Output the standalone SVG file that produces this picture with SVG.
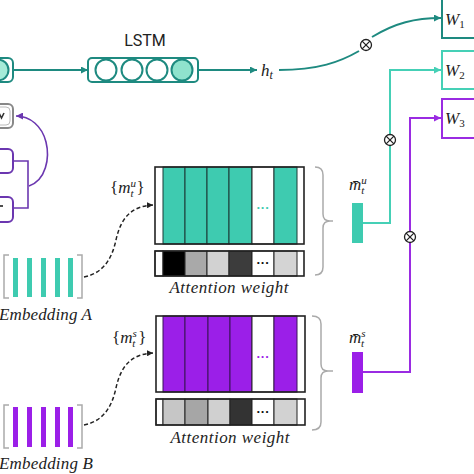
<svg xmlns="http://www.w3.org/2000/svg" width="474" height="474" viewBox="0 0 474 474">
<defs>
<style>
.sans{font-family:"Roboto","Liberation Sans",sans-serif;fill:#222}
.mi{font-family:"Liberation Serif","DejaVu Serif",serif;font-style:italic;fill:#222}
.up{font-style:normal}
.cap{font-family:"Liberation Serif","DejaVu Serif",serif;font-style:italic;font-size:17px;fill:#222}
.dt{stroke:#1e8a80;stroke-width:2;fill:none}
.lt{stroke:#45d0b6;stroke-width:2;fill:none}
.pu{stroke:#9a2be2;stroke-width:2;fill:none}
.lp{stroke:#6b37b0;stroke-width:1.6;fill:none}
.dash{stroke:#222;stroke-width:1.5;fill:none;stroke-dasharray:4 2.5}
.brace{stroke:#aaa;stroke-width:1.5;fill:none}
.box{fill:none;stroke:#222;stroke-width:1.6}
.cellT{fill:#3ecbb0;stroke:#1b3a36;stroke-width:1}
.cellP{fill:#9b1fe8;stroke:#3a1458;stroke-width:1}
.cellW{fill:#fff;stroke:#222;stroke-width:1}
.dots{font-family:"Liberation Sans",sans-serif;font-size:13px;font-weight:bold;text-anchor:middle}
.otimes circle{fill:#fff;stroke:#222;stroke-width:1.3}
.otimes path{stroke:#222;stroke-width:1.3}
</style>
<marker id="aD" viewBox="0 0 10 10" refX="10" refY="5" markerWidth="7" markerHeight="7" markerUnits="userSpaceOnUse" orient="auto"><path d="M0,0 L10,5 L0,10 z" fill="#1e8a80"/></marker>
<marker id="aL" viewBox="0 0 10 10" refX="10" refY="5" markerWidth="7" markerHeight="7" markerUnits="userSpaceOnUse" orient="auto"><path d="M0,0 L10,5 L0,10 z" fill="#45d0b6"/></marker>
<marker id="aP" viewBox="0 0 10 10" refX="10" refY="5" markerWidth="7" markerHeight="7" markerUnits="userSpaceOnUse" orient="auto"><path d="M0,0 L10,5 L0,10 z" fill="#9a2be2"/></marker>
<marker id="aLP" viewBox="0 0 10 10" refX="10" refY="5" markerWidth="7" markerHeight="7" markerUnits="userSpaceOnUse" orient="auto"><path d="M0,0 L10,5 L0,10 z" fill="#6b37b0"/></marker>
<marker id="aK" viewBox="0 0 10 10" refX="10" refY="5" markerWidth="6" markerHeight="6" markerUnits="userSpaceOnUse" orient="auto"><path d="M0,0 L10,5 L0,10 z" fill="#222"/></marker>
</defs>
<rect width="474" height="474" fill="#fff"/>

<g id="connectors">
<path class="dt" d="M13,70 H88" marker-end="url(#aD)"/>
<path class="dt" d="M198,70 H257" marker-end="url(#aD)"/>
<path class="dt" d="M279,70 C318,70 340,62 359,51"/>
<path class="dt" d="M372,37 C395,23 415,18 441,18" marker-end="url(#aD)"/>
<path class="lt" d="M363,223 H390 V70 H441" marker-end="url(#aL)"/>
<path class="pu" d="M363,372 H410 V118 H441" marker-end="url(#aP)"/>
<path class="lp" d="M13,161 H28 V208 H13"/>
<path class="lp" d="M29,186 C46,180 50,158 46,142 C42,126 30,116 16,116" marker-end="url(#aLP)"/>
<path class="dash" d="M84,277 C104,273 112,258 116,240 C121,217 132,206 153,205" marker-end="url(#aK)"/>
<path class="dash" d="M84,425 C104,421 112,406 116,388 C121,365 132,354 153,353" marker-end="url(#aK)"/>
</g>

<g id="otimes1" class="otimes"><circle cx="366" cy="45" r="5.5"/><path d="M362.1,41.1 L369.9,48.9 M369.9,41.1 L362.1,48.9"/></g>
<g id="otimes2" class="otimes"><circle cx="390" cy="140" r="5.5"/><path d="M386.1,136.1 L393.9,143.9 M393.9,136.1 L386.1,143.9"/></g>
<g id="otimes3" class="otimes"><circle cx="410" cy="237" r="5.5"/><path d="M406.1,233.1 L413.9,240.9 M413.9,233.1 L406.1,240.9"/></g>

<g id="left-teal-node">
<rect x="-30" y="58" width="43" height="24" rx="5" fill="#fff" stroke="#1e8a80" stroke-width="2"/>
<circle cx="-2" cy="70" r="10.5" fill="#a6ebd8" stroke="#1e8a80" stroke-width="2"/>
</g>
<g id="left-gray-node">
<rect x="-30" y="104" width="43" height="24" rx="5" fill="#fff" stroke="#888" stroke-width="2"/>
<rect x="-28" y="107" width="38" height="18" rx="4" fill="none" stroke="#bbb" stroke-width="1"/>
<path d="M-1,113 L1.5,118 L4,113" fill="none" stroke="#333" stroke-width="1.6"/>
</g>
<g id="left-purple-node1">
<rect x="-30" y="149" width="43" height="24" rx="5" fill="#fff" stroke="#6b37b0" stroke-width="2"/>
</g>
<g id="left-purple-node2">
<rect x="-30" y="197" width="43" height="25" rx="5" fill="#fff" stroke="#6b37b0" stroke-width="2"/>
<path d="M-1,206 H3" stroke="#222" stroke-width="1.6"/>
</g>

<g id="lstm">
<text class="sans" x="145" y="46" font-size="16" text-anchor="middle">LSTM</text>
<rect x="88" y="58" width="110" height="24" rx="4" fill="#fff" stroke="#1e8a80" stroke-width="2"/>
<circle cx="106" cy="70" r="10.5" fill="#fff" stroke="#1e8a80" stroke-width="2"/>
<circle cx="132" cy="70" r="10.5" fill="#fff" stroke="#1e8a80" stroke-width="2"/>
<circle cx="157" cy="70" r="10.5" fill="#fff" stroke="#1e8a80" stroke-width="2"/>
<circle cx="182" cy="70" r="10.5" fill="#8fe2cd" stroke="#1e8a80" stroke-width="2"/>
</g>

<g id="ht">
<text class="mi" x="261" y="76" font-size="17">h<tspan font-size="12" dy="3">t</tspan></text>
</g>

<g id="W1">
<rect x="442" y="-4" width="40" height="42" fill="#fff" stroke="#1e8a80" stroke-width="2"/>
<text class="mi" x="445" y="25" font-size="17">W<tspan class="up" font-size="11" dy="3">1</tspan></text>
</g>
<g id="W2">
<rect x="442" y="51" width="40" height="38" fill="#fff" stroke="#45d0b6" stroke-width="2"/>
<text class="mi" x="445" y="76" font-size="17">W<tspan class="up" font-size="11" dy="3">2</tspan></text>
</g>
<g id="W3">
<rect x="442" y="99" width="40" height="39" fill="#fff" stroke="#9a2be2" stroke-width="2"/>
<text class="mi" x="445" y="124" font-size="17">W<tspan class="up" font-size="11" dy="3">3</tspan></text>
</g>

<g id="embeddingA">
<path class="brace" stroke="#bbb" d="M9,255 H4 V298 H9 M77,255 H82 V298 H77"/>
<rect x="13" y="258" width="5" height="39" fill="#3ecbb0"/>
<rect x="27" y="258" width="5" height="39" fill="#3ecbb0"/>
<rect x="41" y="258" width="5" height="39" fill="#3ecbb0"/>
<rect x="55" y="258" width="5" height="39" fill="#3ecbb0"/>
<rect x="68" y="258" width="5" height="39" fill="#3ecbb0"/>
<text class="cap" x="-1" y="320" textLength="93">Embedding A</text>
</g>
<g id="embeddingB">
<path class="brace" stroke="#bbb" d="M9,405 H4 V448 H9 M77,405 H82 V448 H77"/>
<rect x="13" y="407" width="5" height="40" fill="#9b1fe8"/>
<rect x="27" y="407" width="5" height="40" fill="#9b1fe8"/>
<rect x="41" y="407" width="5" height="40" fill="#9b1fe8"/>
<rect x="55" y="407" width="5" height="40" fill="#9b1fe8"/>
<rect x="68" y="407" width="5" height="40" fill="#9b1fe8"/>
<text class="cap" x="-1" y="469" textLength="94">Embedding B</text>
</g>

<g id="memoryU">
<text class="mi" x="110" y="193" font-size="17"><tspan class="up">{</tspan>m<tspan font-size="11" dy="-6">u</tspan><tspan font-size="11" dx="-5.5" dy="10">t</tspan><tspan class="up" dx="3" dy="-4">}</tspan></text>
<rect x="155" y="167" width="149" height="77" fill="#fff"/>
<rect class="cellT" x="163" y="167" width="22" height="77"/>
<rect class="cellT" x="185" y="167" width="22" height="77"/>
<rect class="cellT" x="207" y="167" width="22" height="77"/>
<rect class="cellT" x="229" y="167" width="23" height="77"/>
<rect class="cellW" x="252" y="167" width="22" height="77"/>
<rect class="cellT" x="274" y="167" width="23" height="77"/>
<rect class="box" x="155" y="167" width="149" height="77"/>
<text class="dots" x="263" y="212" fill="#3ecbb0">···</text>
</g>
<g id="weightU">
<rect class="cellW" x="155" y="251" width="8" height="25"/>
<rect x="163" y="251" width="22" height="25" fill="#000" stroke="#222"/>
<rect x="185" y="251" width="22" height="25" fill="#a9a9a9" stroke="#222"/>
<rect x="207" y="251" width="22" height="25" fill="#d2d2d2" stroke="#222"/>
<rect x="229" y="251" width="23" height="25" fill="#3c3c3c" stroke="#222"/>
<rect class="cellW" x="252" y="251" width="22" height="25"/>
<rect x="274" y="251" width="23" height="25" fill="#d4d4d4" stroke="#222"/>
<rect class="box" x="155" y="251" width="149" height="25"/>
<text class="dots" x="263" y="267" fill="#111">···</text>
<text class="cap" x="229" y="293" text-anchor="middle" textLength="119">Attention weight</text>
</g>

<g id="memoryS">
<text class="mi" x="112" y="343" font-size="17"><tspan class="up">{</tspan>m<tspan font-size="11" dy="-6">s</tspan><tspan font-size="11" dx="-4.5" dy="10">t</tspan><tspan class="up" dx="3" dy="-4">}</tspan></text>
<rect x="156" y="316" width="149" height="76" fill="#fff"/>
<rect class="cellP" x="163" y="316" width="22" height="76"/>
<rect class="cellP" x="185" y="316" width="23" height="76"/>
<rect class="cellP" x="208" y="316" width="22" height="76"/>
<rect class="cellP" x="230" y="316" width="22" height="76"/>
<rect class="cellW" x="252" y="316" width="22" height="76"/>
<rect class="cellP" x="274" y="316" width="23" height="76"/>
<rect class="box" x="156" y="316" width="149" height="76"/>
<text class="dots" x="263" y="361" fill="#9b1fe8">···</text>
</g>
<g id="weightS">
<rect class="cellW" x="156" y="399" width="7" height="26"/>
<rect x="163" y="399" width="22" height="26" fill="#c6c6c6" stroke="#222"/>
<rect x="185" y="399" width="23" height="26" fill="#a6a6a6" stroke="#222"/>
<rect x="208" y="399" width="22" height="26" fill="#d0d0d0" stroke="#222"/>
<rect x="230" y="399" width="22" height="26" fill="#333" stroke="#222"/>
<rect class="cellW" x="252" y="399" width="22" height="26"/>
<rect x="274" y="399" width="23" height="26" fill="#d2d2d2" stroke="#222"/>
<rect class="box" x="156" y="399" width="149" height="26"/>
<text class="dots" x="263" y="416" fill="#111">···</text>
<text class="cap" x="230" y="443" text-anchor="middle" textLength="119">Attention weight</text>
</g>

<g id="braceU"><path class="brace" d="M315,167 Q323,167 323,175 V214 Q323,221 330,221 H333 M330,221 Q323,221 323,228 V267 Q323,275 315,275"/></g>
<g id="braceS"><path class="brace" d="M312,316 Q321,316 321,324 V364 Q321,371 328,371 H333 M328,371 Q321,371 321,378 V422 Q321,430 312,430"/></g>

<g id="mbarU">
<rect x="352" y="203" width="11" height="40" fill="#3ecbb0"/>
<text class="mi" x="349" y="190" font-size="17">m̄<tspan font-size="11" dy="-6">u</tspan><tspan font-size="11" dx="-5.5" dy="10">t</tspan></text>
</g>
<g id="mbarS">
<rect x="352" y="352" width="11" height="41" fill="#9b1fe8"/>
<text class="mi" x="349" y="343" font-size="17">m̄<tspan font-size="11" dy="-6">s</tspan><tspan font-size="11" dx="-4.5" dy="10">t</tspan></text>
</g>
</svg>
